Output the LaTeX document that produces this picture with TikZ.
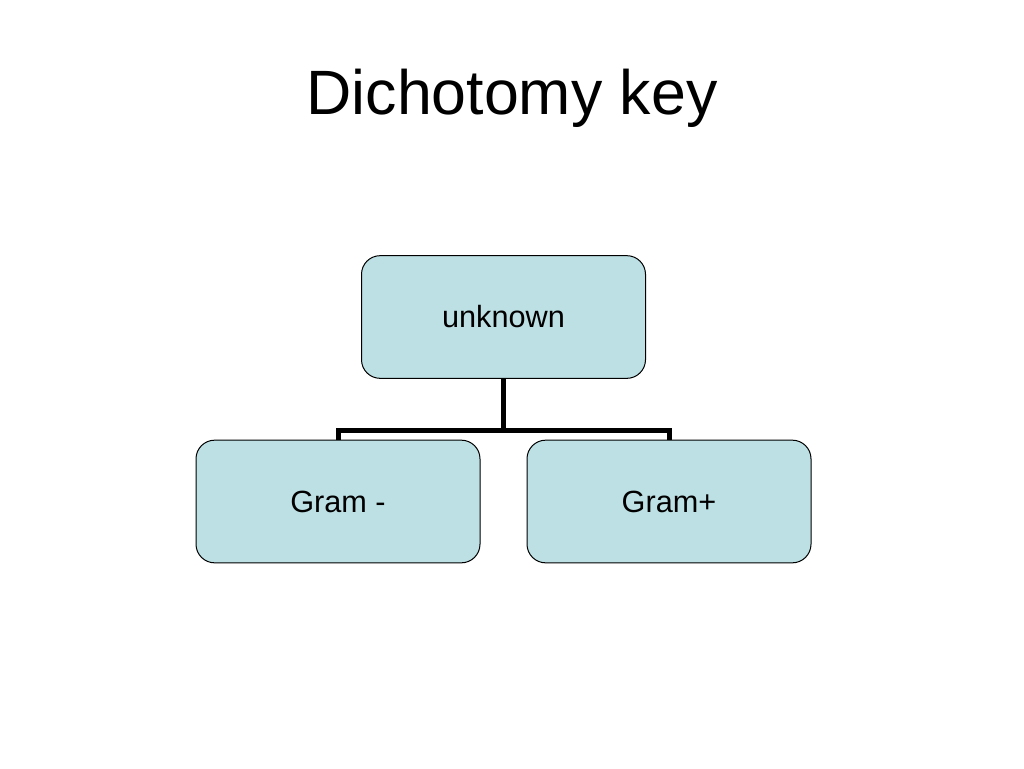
\documentclass[tikz,border=0pt]{standalone}
\usepackage{fontspec}
\setmainfont{Liberation Sans}
\definecolor{boxfill}{RGB}{188,224,228}
\tikzset{every picture/.style={line width=0.75pt}}
\tikzset{keybox/.style={draw, fill=boxfill, rounded corners=14pt, minimum width=213pt, minimum height=92pt, font=\fontsize{23}{27}\selectfont}}

\begin{document}
\begin{tikzpicture}[x=0.75pt,y=0.75pt,yscale=-1,xscale=1]
	\useasboundingbox (0,0) rectangle (1024,768);

	% Title
	\node (title) at (512,98) {\fontsize{47}{56}\selectfont Dichotomy key};

	% Boxes
	\node [keybox] (unknown) at (503.5,317) {unknown};
	\node [keybox] (gramneg) at (338,501.5) {Gram -};
	\node [keybox] (grampos) at (669,501.5) {Gram+};

	% Connector
	\coordinate (split) at (503.5,430);
	\draw [line width=3.75pt] (unknown.south) -- (split) ;
	\draw [line width=3.75pt] (gramneg.north) |- (split) -| (grampos.north) ;

\end{tikzpicture}
\end{document}
